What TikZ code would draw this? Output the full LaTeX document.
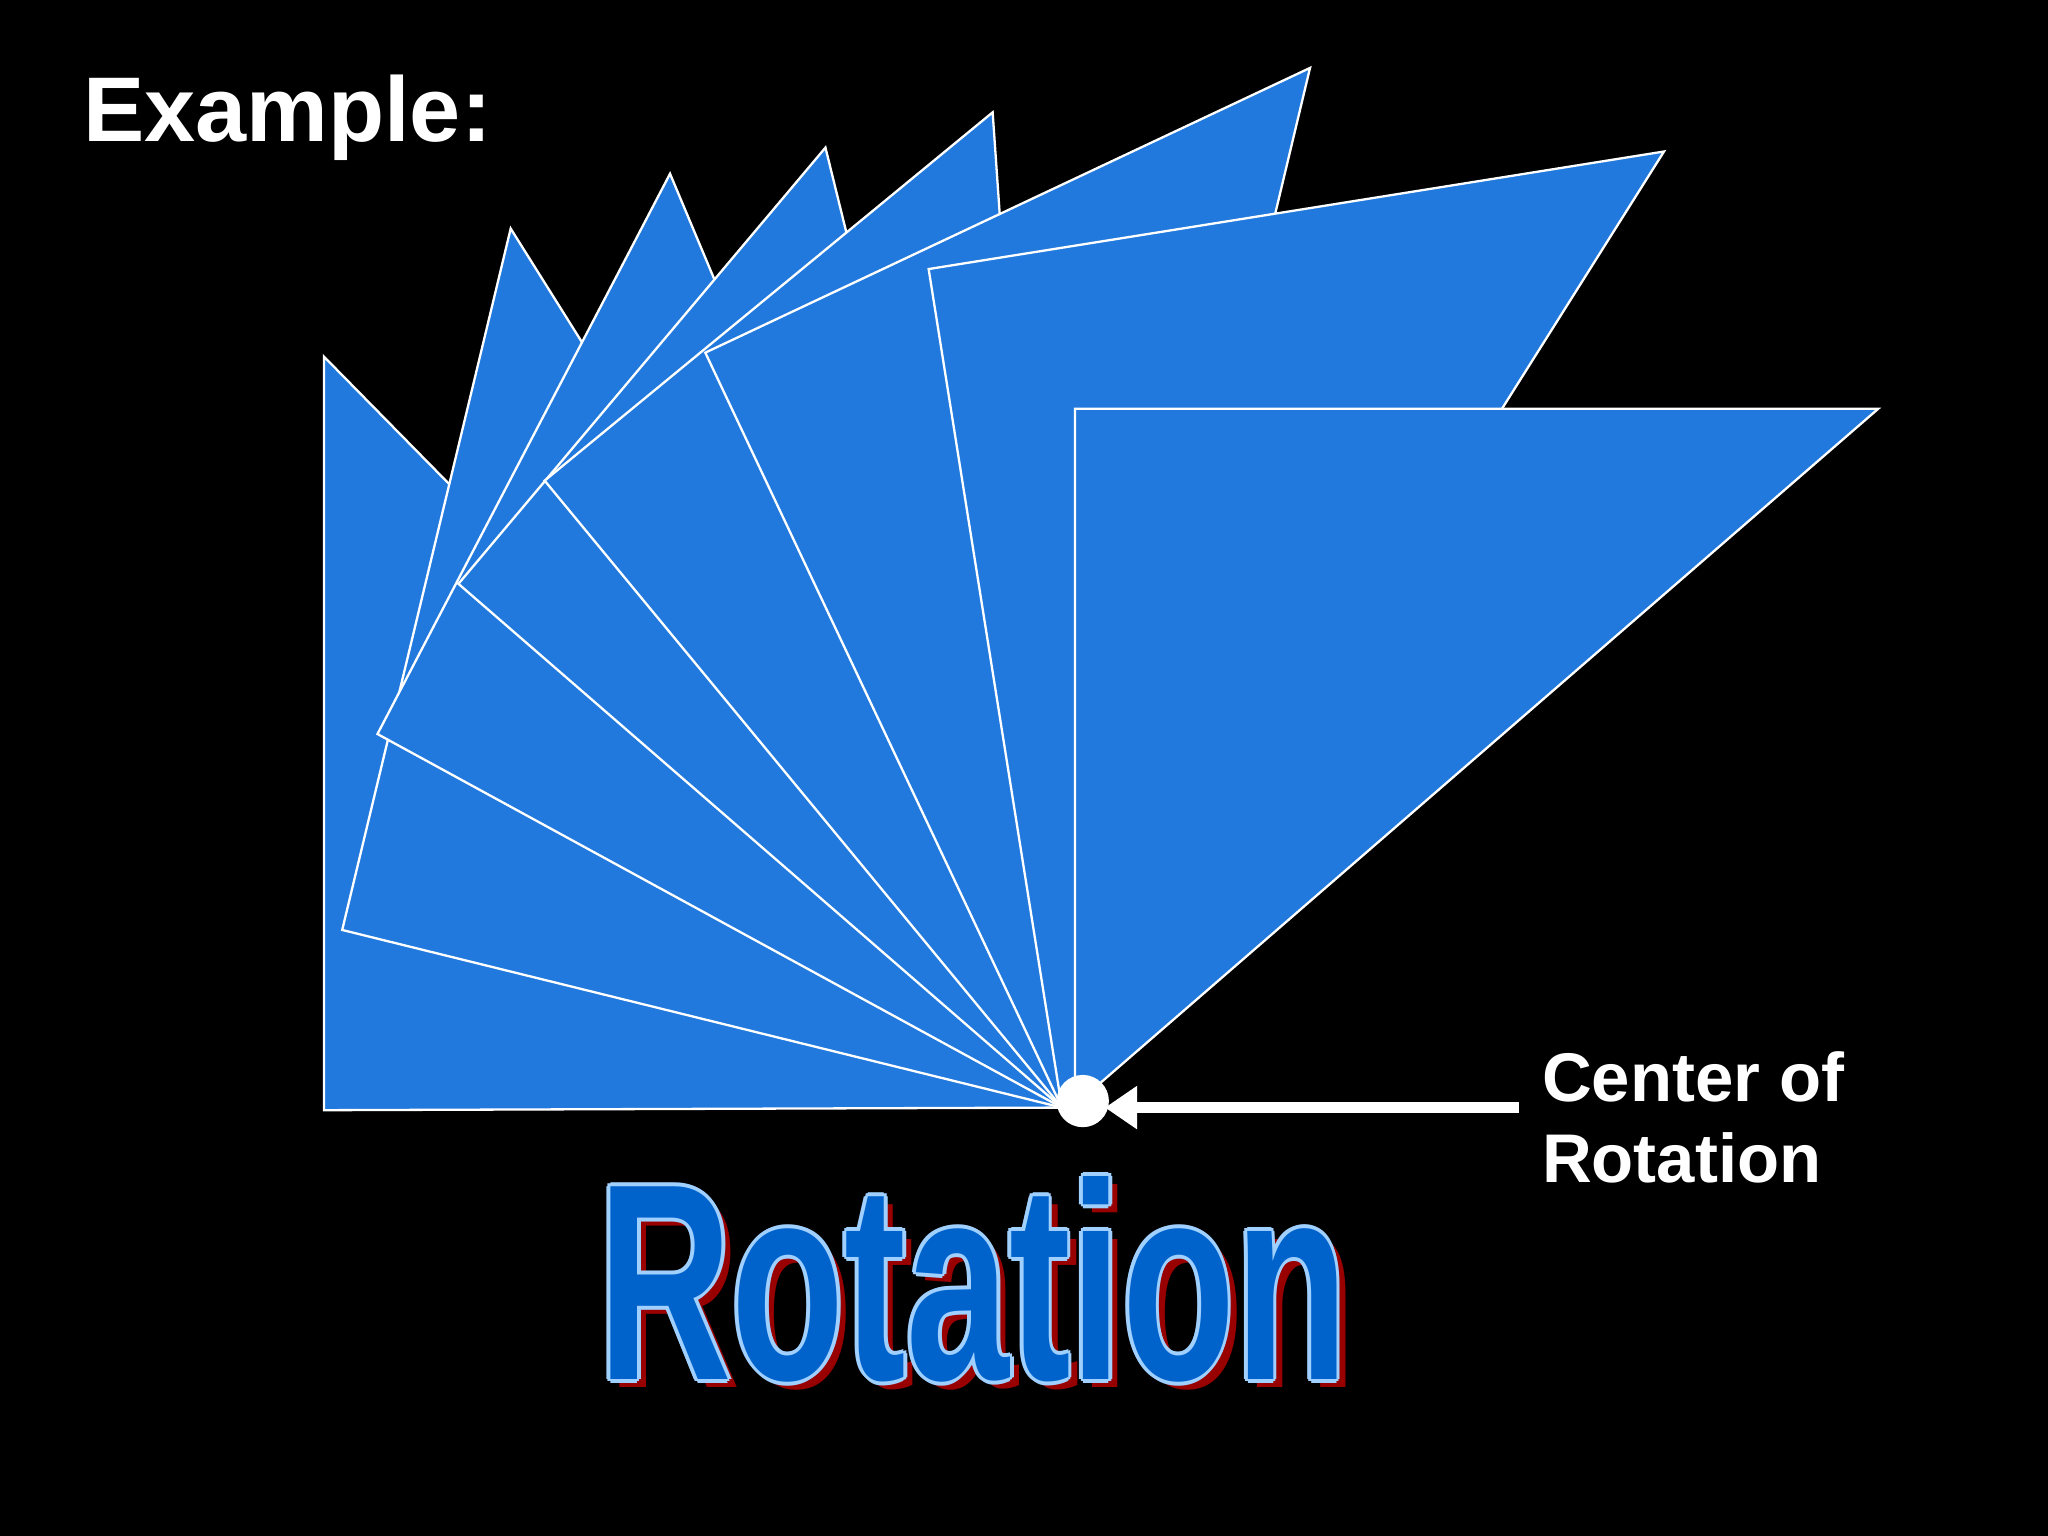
\documentclass[tikz,border=0pt]{standalone}
\usepackage{fontspec}
\setmainfont{Liberation Sans}
\usetikzlibrary{arrows.meta}
\definecolor{tri}{HTML}{2279DD}
\definecolor{rblue}{HTML}{0063CC}
\definecolor{rlight}{HTML}{9FD0FF}
\definecolor{rred}{HTML}{990000}
\begin{document}
\begin{tikzpicture}[x=0.01cm,y=-0.01cm,
  tri/.style={fill=tri,draw=white,line width=0.5pt,line join=miter},
  rot/.style={font=\fontsize{61}{61}\bfseries\selectfont,xscale=0.66,anchor=base,inner sep=0}]
\fill[black] (0,0) rectangle (1568,1176);
\useasboundingbox (0,0) rectangle (1568,1176);
\coordinate (P) at (813,848);
\draw[tri] (248,850) -- (248,273) -- (P) -- cycle;
\draw[tri] (262,712) -- (391,175) -- (P) -- cycle;
\draw[tri] (289,562) -- (513,133) -- (P) -- cycle;
\draw[tri] (351,447) -- (632,113) -- (P) -- cycle;
\draw[tri] (417,368) -- (760,86) -- (P) -- cycle;
\draw[tri] (540,270) -- (1003,52) -- (P) -- cycle;
\draw[tri] (711,206) -- (1274,116) -- (P) -- cycle;
\draw[tri] (823,313) -- (1438,313) -- (823,846) -- cycle;
\node[circle,fill=white,minimum size=0.4cm,inner sep=0] (dot) at (829,843) {};
\coordinate (tail) at (1163,848);
\coordinate (head) at (846,848);
\draw[white,line width=2.4pt,-{Triangle[length=7pt,width=9pt]}] (tail) -- (head);
\node[anchor=base west,inner sep=0,text=white,font=\fontsize{20}{24}\bfseries\selectfont] (ex) at (63,108) {Example:};
\node[anchor=base west,inner sep=0,text=white,font=\fontsize{15}{18}\bfseries\selectfont] (cr1) at (1180,843) {Center of};
\node[anchor=base west,inner sep=0,text=white,font=\fontsize{15}{18}\bfseries\selectfont] (cr2) at (1180,905) {Rotation};
\node[rot,text=rred] at (752,1062) {Rotation};
\foreach \dx/\dy in {-3/0,3/0,0/-3,0/3,-2/-2,2/2,-2/2,2/-2}
  \node[rot,text=rlight] at (745+\dx,1056+\dy) {Rotation};
\node[rot,text=rblue] (rt) at (745,1056) {Rotation};
\end{tikzpicture}
\end{document}
